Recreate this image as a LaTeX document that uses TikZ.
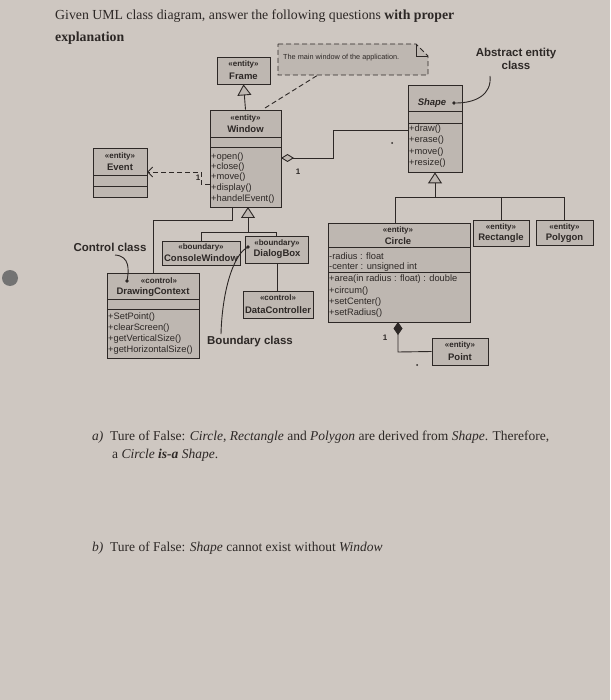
\documentclass[tikz,border=0pt]{standalone}
\usepackage{fontspec}
\setmainfont{Liberation Serif}
\newfontfamily\dsans{Liberation Sans}
\usetikzlibrary{arrows.meta,fit}
\definecolor{paper}{RGB}{206,199,193}
\definecolor{boxfill}{RGB}{190,183,177}
\definecolor{ink}{RGB}{45,40,38}
\tikzset{
 box/.style={draw=ink, fill=boxfill, line width=0.8pt, inner sep=0pt},
 cl/.style={font=\dsans\bfseries\fontsize{9.5}{10}\selectfont, text=ink, inner sep=0pt},
 st/.style={font=\dsans\bfseries\fontsize{8}{9}\selectfont, text=ink, inner sep=0pt},
 mt/.style={font=\dsans\fontsize{9.3}{10}\selectfont, text=ink, inner sep=0pt, anchor=west},
 lab/.style={font=\dsans\bfseries\fontsize{11.5}{13}\selectfont, text=ink, inner sep=0pt, align=center},
 ln/.style={draw=ink, line width=0.9pt},
 gen/.style={ln, -{Triangle[open, fill=boxfill, length=11pt, width=14pt]}},
 dln/.style={ln, dash pattern=on 5pt off 3pt},
 q/.style={font=\fontsize{13.5}{15}\selectfont, text=ink, inner sep=0pt, anchor=west},
}
\newcommand{\ubox}[5]{\node[box, fit={(#2,#3)(#4,#5)}] (#1) {};}
\begin{document}
\begin{tikzpicture}[x=1pt,y=-1pt]
\fill[paper] (0,0) rectangle (610,700);
\useasboundingbox (0,0) rectangle (610,700);
\fill[black!55] (10,278) circle (8);
% title
\node[q, font=\fontsize{13.8}{15}\selectfont] (t1) at (55,16) {Given UML class diagram, answer the following questions \textbf{with proper}};
\node[q, font=\fontsize{13.8}{15}\selectfont\bfseries] (t2) at (55,38) {explanation};
% note
\draw[dln, fill=boxfill] (278,44) -- (416,44) -- (428,56) -- (428,75) -- (278,75) -- cycle;
\draw[ln] (416,44) -- (416,56) -- (428,56);
\coordinate (notec) at (318,75);
\node[font=\dsans\fontsize{7.3}{8}\selectfont, text=ink, inner sep=0pt, anchor=west] (notet) at (283,58) {The main window of the application.};
% Frame
\ubox{frame}{217}{57}{270}{84}
\node[st] (frs) at (243.5,64) {«entity»};
\node[cl] (frn) at (243.5,76) {Frame};
% Window
\ubox{window}{210}{110}{281}{207}
\draw[ln] (210,137) -- (281,137) (210,147) -- (281,147);
\node[st] (wis) at (245.5,118) {«entity»};
\node[cl] (win) at (245.5,129) {Window};
\node[mt] at (211,157) {+open()};
\node[mt] at (211,167) {+close()};
\node[mt] at (211,177) {+move()};
\node[mt] at (211,188) {+display()};
\node[mt] at (211,199) {+handelEvent()};
\draw[gen] (window.north) -- (frame.south);
\draw[dln] (265,108) -- (notec);
% Event
\ubox{event}{93}{148}{147}{197}
\draw[ln] (93,175) -- (147,175) (93,186) -- (147,186);
\node[st] at (120,156) {«entity»};
\node[cl] at (120,167) {Event};
\coordinate (evw) at (210,184);
\coordinate (eve) at (147,172);
\draw[dln, -{Straight Barb[length=5pt,width=10pt]}] (evw) -- (201,184) -- (201,172) -- (eve);
\node[st] at (198,178) {1};
% Shape
\ubox{shape}{408}{85}{462}{172}
\draw[ln] (408,111) -- (462,111) (408,123) -- (462,123);
\node[cl, font=\dsans\bfseries\itshape\fontsize{9.5}{10}\selectfont] (shn) at (432,103) {Shape};
\fill[ink] (454,103) circle (1.8);
\node[mt] at (409,129) {+draw()};
\node[mt] at (409,140) {+erase()};
\node[mt] at (409,152) {+move()};
\node[mt] at (409,163) {+resize()};
\node[lab] (abs) at (516,59) {Abstract entity\\class};
\draw[ln] (490,76) .. controls (492,95) and (475,103) .. (456,103);
% aggregation
\draw[ln, {Diamond[open, fill=boxfill, length=13pt, width=8pt]}-] (281,158) -- (333,158) -- (333,130) -- (408,130);
\node[st] at (298,172) {1};
\fill[ink] (392,143) circle (1);
% Circle
\ubox{circle}{328}{223}{470}{322}
\draw[ln] (328,247) -- (470,247) (328,272) -- (470,272);
\node[st] at (398,230) {«entity»};
\node[cl] at (398,241) {Circle};
\node[mt] at (329,256) {-radius : float};
\node[mt] at (329,267) {-center : unsigned int};
\node[mt] at (329,279) {+area(in radius : float) : double};
\node[mt] at (329,291) {+circum()};
\node[mt] at (329,302) {+setCenter()};
\node[mt] at (329,313) {+setRadius()};
% Rectangle, Polygon
\ubox{rect}{473}{220}{529}{246}
\node[st] at (501,227) {«entity»};
\node[cl] at (501,238) {Rectangle};
\ubox{poly}{536}{220}{593}{245}
\node[st] at (564.5,227) {«entity»};
\node[cl] at (564.5,238) {Polygon};
% generalization to Shape
\coordinate (gj) at (435,197);
\draw[gen] (gj) -- (shape.south);
\draw[ln] (395,223) -- (395,197) -- (564.5,197) -- (poly.north);
\draw[ln] (501,197) -- (rect.north);
% Point
\ubox{point}{432}{338}{488}{365}
\node[st] at (460,345) {«entity»};
\node[cl] at (460,357) {Point};
\draw[ln, {Diamond[fill=ink, length=13pt, width=9pt]}-] (398,322) -- (398,352) -- (point.west);
\node[st] at (385,338) {1};
\fill[ink] (417,365) circle (1);
% ConsoleWindow, DialogBox
\ubox{console}{162}{241}{240}{265}
\node[st] at (201,247) {«boundary»};
\node[cl] at (201,258) {ConsoleWindow};
\ubox{dialog}{245}{236}{308}{263}
\node[st] at (277,243) {«boundary»};
\node[cl] at (277,254) {DialogBox};
\coordinate (wj) at (248,232);
\draw[gen] (wj) -- (248,207);
\draw[ln] (console.north) -- (201,232) -- (276.5,232) -- (dialog.north);
% DataController
\ubox{datac}{243}{291}{313}{318}
\node[st] at (278,298) {«control»};
\node[cl] at (278,310) {DataController};
\draw[ln] (277,263) -- (277,291);
% DrawingContext
\ubox{drawc}{107}{273}{199}{358}
\draw[ln] (107,299) -- (199,299) (107,309) -- (199,309);
\node[st] at (159,281) {«control»};
\node[cl] at (153,292) {DrawingContext};
\fill[ink] (127,281) circle (1.8);
\node[mt] at (108,317) {+SetPoint()};
\node[mt] at (108,328) {+clearScreen()};
\node[mt] at (108,339) {+getVerticalSize()};
\node[mt] at (108,350) {+getHorizontalSize()};
\draw[ln] (232,207) -- (232,220) -- (153,220) -- (drawc.north);
% labels
\node[lab] (ctl) at (110,247) {Control class};
\draw[ln] (115,255) .. controls (130,256) and (129,270) .. (127,281);
\node[lab] (bnd) at (250,342) {Boundary class};
\draw[ln] (221,334) .. controls (222,295) and (232,255) .. (248,247);
\fill[ink] (248,247) circle (1.8);
% questions
\node[q] (qa) at (92,437) {\textit{a)}\enspace Ture of False: \textit{Circle}, \textit{Rectangle} and \textit{Polygon} are derived from \textit{Shape}. Therefore,};
\node[q] (qa2) at (112,455) {a \textit{Circle} \textbf{\textit{is-a}} \textit{Shape}.};
\node[q] (qb) at (92,548) {\textit{b)}\enspace Ture of False: \textit{Shape} cannot exist without \textit{Window}};
\end{tikzpicture}
\end{document}
